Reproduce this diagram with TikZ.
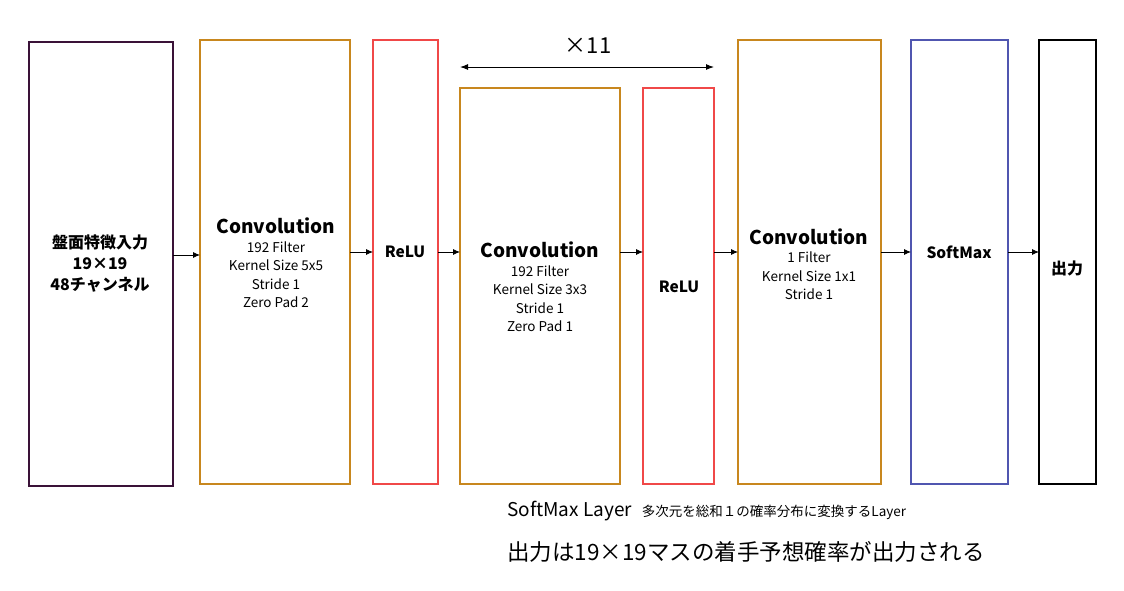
\documentclass[tikz,border=0pt]{standalone}
\usepackage{fontspec}
\setmainfont{Noto Sans CJK JP}
\usetikzlibrary{arrows.meta}
\definecolor{cpur}{HTML}{3A1238}
\definecolor{cgold}{HTML}{C8871E}
\definecolor{cred}{HTML}{F04848}
\definecolor{cblue}{HTML}{5056B0}
\newcommand{\convtitle}{{\fontsize{19}{21}\selectfont\bfseries Convolution}}
\begin{document}
\begin{tikzpicture}[x=1pt,y=-1pt,
  layer/.style={draw,line width=2.6pt},
  arr/.style={-{Latex[length=7pt,width=6pt]},line width=0.8pt},
  lbl/.style={align=center,inner sep=0pt},
  conv/.style={lbl,font=\fontsize{13.5}{18.5}\selectfont}]
\useasboundingbox (0,0) rectangle (1124,590);
\draw[layer,cpur] (29,42) rectangle (173,486);
\draw[layer,cgold] (200,40) rectangle (350,484);
\draw[layer,cred] (373,40) rectangle (438,484);
\draw[layer,cgold] (460,88) rectangle (620,484);
\draw[layer,cred] (643,88) rectangle (714,484);
\draw[layer,cgold] (738,40) rectangle (881,484);
\draw[layer,cblue] (911,40) rectangle (1008,484);
\draw[layer,black] (1039,40) rectangle (1096,484);
\coordinate (b1) at (173,255); \coordinate (b2l) at (200,255);
\coordinate (b2r) at (350,252); \coordinate (b3l) at (373,252);
\coordinate (b3r) at (438,252); \coordinate (b4l) at (460,252);
\coordinate (b4r) at (620,252); \coordinate (b5l) at (643,252);
\coordinate (b5r) at (714,252); \coordinate (b6l) at (738,252);
\coordinate (b6r) at (881,252); \coordinate (b7l) at (911,252);
\coordinate (b7r) at (1008,252); \coordinate (b8l) at (1039,252);
\draw[arr] (b1)--(b2l); \draw[arr] (b2r)--(b3l); \draw[arr] (b3r)--(b4l);
\draw[arr] (b4r)--(b5l); \draw[arr] (b5r)--(b6l); \draw[arr] (b6r)--(b7l);
\draw[arr] (b7r)--(b8l);
\coordinate (rl) at (460,67); \coordinate (rr) at (714,67);
\draw[{Latex[length=8pt,width=6pt]}-{Latex[length=8pt,width=6pt]},line width=1pt] (rl)--(rr);
\node[lbl,font=\fontsize{22}{24}\selectfont] (x11) at (588,46) {×11};
\node[lbl,font=\fontsize{16}{21}\selectfont\bfseries] (t1) at (100,264) {盤面特徴入力\\19×19\\48チャンネル};
\node[conv] (t2) at (276,263) {\convtitle\\192 Filter\\Kernel Size 5x5\\Stride 1\\Zero Pad 2};
\node[lbl,font=\fontsize{15.5}{17}\selectfont\bfseries] (t3) at (405,252) {ReLU};
\node[conv] (t4) at (540,287) {\convtitle\\192 Filter\\Kernel Size 3x3\\Stride 1\\Zero Pad 1};
\node[lbl,font=\fontsize{15.5}{17}\selectfont\bfseries] (t5) at (679,287) {ReLU};
\node[conv] (t6) at (809,264) {\convtitle\\1 Filter\\Kernel Size 1x1\\Stride 1};
\node[lbl,font=\fontsize{15.5}{17}\selectfont\bfseries] (t7) at (959,252) {SoftMax};
\node[lbl,font=\fontsize{16}{18}\selectfont\bfseries] (t8) at (1067,268) {出力};
\node[anchor=west,inner sep=0pt] (n1) at (507,511) {{\fontsize{19}{21}\selectfont SoftMax Layer}\hspace{10pt}{\fontsize{13.5}{15}\selectfont 多次元を総和１の確率分布に変換するLayer}};
\node[anchor=west,inner sep=0pt,font=\fontsize{22.5}{24}\selectfont] (n2) at (507,552) {出力は19×19マスの着手予想確率が出力される};
\end{tikzpicture}
\end{document}
